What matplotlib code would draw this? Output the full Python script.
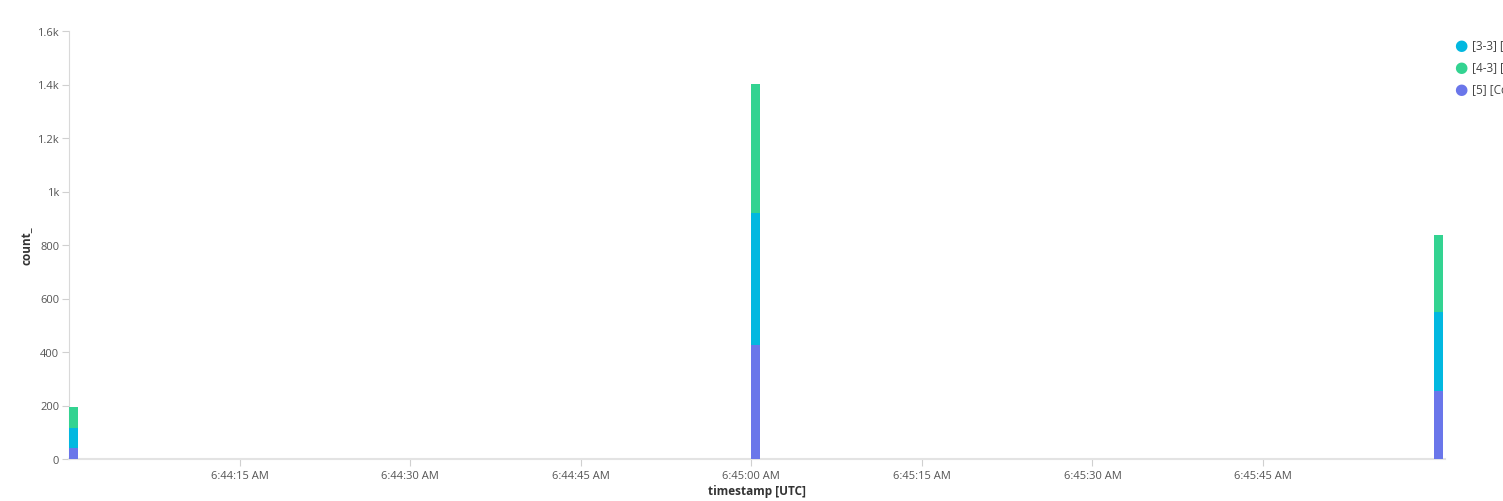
import matplotlib
matplotlib.use("Agg")
import matplotlib.pyplot as plt
import matplotlib.dates as mdates
from datetime import datetime

# ---- data ----
timestamps = ["2023-01-01 06:44:00", "2023-01-01 06:45:00", "2023-01-01 06:46:00"]
series_names = ["[5] [Co", "[3-3] [", "[4-3] ["]
vals_5 = [41, 427, 255]
vals_33 = [75, 493, 295]
vals_43 = [78, 483, 289]
colors = {"[3-3] [": "#02B8E0", "[4-3] [": "#33D391", "[5] [Co": "#6A76EA"}
legend_order = ["[3-3] [", "[4-3] [", "[5] [Co"]
tick_times = ["2023-01-01 06:44:15", "2023-01-01 06:44:30", "2023-01-01 06:44:45",
              "2023-01-01 06:45:00", "2023-01-01 06:45:15", "2023-01-01 06:45:30",
              "2023-01-01 06:45:45"]
tick_labels = ["6:44:15 AM", "6:44:30 AM", "6:44:45 AM", "6:45:00 AM",
               "6:45:15 AM", "6:45:30 AM", "6:45:45 AM"]
y_ticks = [0, 200, 400, 600, 800, 1000, 1200, 1400, 1600]
y_tick_labels = ["0", "200", "400", "600", "800", "1k", "1.2k", "1.4k", "1.6k"]

plt.rcParams['font.family'] = ['Open Sans', 'DejaVu Sans']

fmt = "%Y-%m-%d %H:%M:%S"
ts = [datetime.strptime(t, fmt) for t in timestamps]
xt = [mdates.date2num(datetime.strptime(t, fmt)) for t in tick_times]
x = mdates.date2num(ts)

W, H = 1503, 502
fig = plt.figure(figsize=(W / 100, H / 100), dpi=100)
ax = fig.add_axes([69 / W, 1 - 460 / H, (1445 - 69) / W, (460 - 32) / H])

width = 0.79 / 86400.0
series_vals = {"[5] [Co": vals_5, "[3-3] [": vals_33, "[4-3] [": vals_43}
bottom = [0, 0, 0]
for name in series_names:
    v = series_vals[name]
    ax.bar(x, v, width=width, bottom=bottom, align="edge", color=colors[name],
           edgecolor="none", label=name, zorder=3)
    bottom = [b + vv for b, vv in zip(bottom, v)]

x0 = mdates.date2num(datetime.strptime("2023-01-01 06:44:00", fmt))
ax.set_xlim(x0, x0 + 121.0 / 86400.0)
ax.set_ylim(0, 1600)

ax.set_xticks(xt)
ax.set_xticklabels(tick_labels)
ax.set_yticks(y_ticks)
ax.set_yticklabels(y_tick_labels)

for s in ["top", "right"]:
    ax.spines[s].set_visible(False)
ax.spines["left"].set_color("#d9d9d9")
ax.spines["bottom"].set_color("#e3e3e3")
ax.spines["bottom"].set_linewidth(1.5)
ax.tick_params(axis="both", colors="#d0d0d0", labelcolor="#555555", labelsize=8, length=5, width=0.8)
ax.tick_params(axis="y", pad=2)
ax.tick_params(axis="x", pad=3)

ax.set_xlabel("timestamp [UTC]", fontsize=8.5, fontweight="bold", color="#333333", labelpad=2)
ax.set_ylabel("count_", fontsize=8.5, fontweight="bold", color="#333333", labelpad=3)

# legend (visible part only, as in the reference)
for i, name in enumerate(legend_order):
    yy = 1 - (46 + 22 * i) / H
    fig.text(1461 / W, yy, "\u25CF", color=colors[name], fontsize=11, ha="center", va="center",
             family="DejaVu Sans")
    fig.text(1472 / W, yy, name, color="#444444", fontsize=8.5, ha="left", va="center")

fig.savefig("out.png", dpi=100)
